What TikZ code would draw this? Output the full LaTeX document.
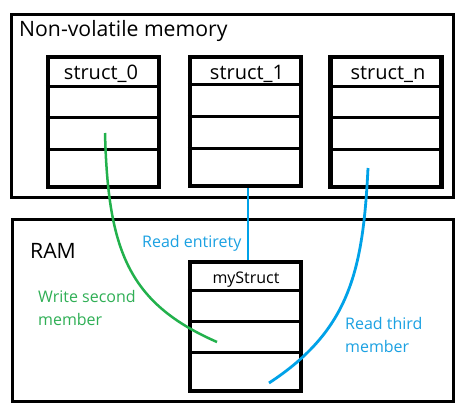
\documentclass[tikz,border=0pt]{standalone}
\usepackage{fontspec}
\setmainfont{Open Sans}
\usetikzlibrary{calc}
\definecolor{pgreen}{HTML}{22B14C}
\definecolor{pblue}{HTML}{00A2E8}
\definecolor{tgreen}{HTML}{2FAF55}
\definecolor{tblue}{HTML}{1BA1E2}
\tikzset{
  container/.style={draw, line width=3pt, inner sep=0pt},
  structbox/.style={draw, line width=4.5pt, inner sep=0pt, minimum width=111pt, minimum height=130pt},
  divider/.style={line width=3pt},
  header/.style={anchor=base, inner sep=0pt, font=\fontsize{20}{24}\selectfont},
  smallheader/.style={anchor=base, inner sep=0pt, font=\fontsize{16}{19}\selectfont},
  title/.style={anchor=base west, inner sep=0pt, font=\fontsize{21.2}{24}\selectfont},
  lbl/.style={anchor=base west, inner sep=0pt, align=left, font=\fontsize{16}{23}\selectfont},
  gline/.style={draw=pgreen, line width=2.5pt},
  bline/.style={draw=pblue, line width=2.8pt},
}
\begin{document}
\begin{tikzpicture}[x=1pt,y=-1pt]
\useasboundingbox[fill=white] (0,0) rectangle (468,417);
% containers
\node[container, minimum width=442pt, minimum height=183pt] (nv) at (232.5,106) {};
\node[container, minimum width=441pt, minimum height=182pt] (ram) at (233,310.5) {};
\node[title] (nvt) at (19,37) {Non-volatile memory};
\node[title] (ramt) at (30,258) {RAM};
% structs
\node[structbox] (s0) at (103.5,122) {};
\node[structbox, minimum height=129pt] (s1) at (245.5,121.5) {};
\node[structbox] (sn) at (386,122) {};
\node[structbox, minimum height=129pt] (ms) at (245.5,326.5) {};
\foreach \s in {s0,sn}{
  \foreach \d in {32,63,95}{
    \draw[divider] ([yshift=-\d pt]\s.north west) -- ([yshift=-\d pt]\s.north east);
  }
}
\foreach \d in {30,62,94}{
  \draw[divider] ([yshift=-\d pt]s1.north west) -- ([yshift=-\d pt]s1.north east);
}
\foreach \d in {31,62,93}{
  \draw[divider] ([yshift=-\d pt]ms.north west) -- ([yshift=-\d pt]ms.north east);
}
\node[header] (h0) at (101,80) {struct\_0};
\node[header] (h1) at (247,80) {struct\_1};
\node[header] (hn) at (388,80) {struct\_n};
\node[smallheader] (hm) at (246,283) {myStruct};
% connectors
\coordinate (g0) at (105,133);
\coordinate (g1) at (217,342);
\draw[gline] (g0) .. controls (108,250) and (128,303) .. (g1);
\draw[bline] ([xshift=2.5pt]s1.south) -- ([xshift=2.5pt]ms.north);
\coordinate (r0) at (368,168);
\coordinate (r1) at (269,383);
\draw[bline] (r0) .. controls (363,270) and (350,330) .. (r1);
% labels
\node[lbl, text=tblue] (le) at (142,247) {Read entirety};
\node[lbl, text=tgreen] (lw) at (38,325) {Write second\\member};
\node[lbl, text=tblue] (lr) at (345,352) {Read third\\member};
\end{tikzpicture}
\end{document}
